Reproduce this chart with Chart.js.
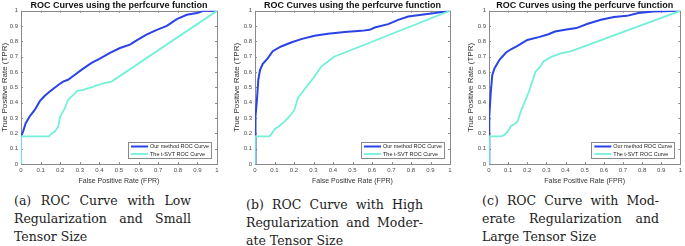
<!DOCTYPE html>
<html>
<head>
<meta charset="utf-8">
<script src="https://cdn.jsdelivr.net/npm/chart.js@4.4.1/dist/chart.umd.min.js"></script>
<style>
  html, body { margin: 0; padding: 0; background: #fff; }
  #page { position: relative; width: 685px; height: 246px; overflow: hidden; }
  .panel { position: absolute; top: 0; height: 190px; }
  .cap { position: absolute; width: 177px; font-family: "DejaVu Serif", serif; font-size: 12.5px; line-height: 18px; color: #222; }
  .cap span { display: block; text-align: justify; text-align-last: justify; white-space: nowrap; }
  .cap span.last { text-align-last: left; }
</style>
</head>
<body>
<div id="page">
  <div class="panel" style="left:0;width:228px"><canvas id="rocA"></canvas></div>
  <div class="panel" style="left:228px;width:228px"><canvas id="rocB"></canvas></div>
  <div class="panel" style="left:456px;width:229px"><canvas id="rocC"></canvas></div>

  <div class="cap" style="left:14px;top:192px">
    <span>(a) ROC Curve with Low</span>
    <span>Regularization and Small</span>
    <span class="last">Tensor Size</span>
  </div>
  <div class="cap" style="left:246px;top:196px">
    <span>(b) ROC Curve with High</span>
    <span>Regularization and Moder-</span>
    <span class="last">ate Tensor Size</span>
  </div>
  <div class="cap" style="left:482px;top:192px">
    <span>(c) ROC Curve with Mod-</span>
    <span>erate Regularization and</span>
    <span class="last">Large Tensor Size</span>
  </div>
</div>

<script>
// Подписи
var chartTitle = 'ROC Curves using the perfcurve function';
var xTitle = 'False Positive Rate (FPR)';
var yTitle = 'True Positive Rate (TPR)';
var blueLabel = 'Our method ROC Curve';
var cyanLabel = 'The t-SVT ROC Curve';

// (a) низкая регуляризация, малый тензор
var blueFprA = [0, 0, 0.01, 0.024, 0.044, 0.07, 0.096, 0.12, 0.147, 0.19, 0.215, 0.24, 0.275, 0.31, 0.36, 0.40, 0.454, 0.505, 0.556, 0.59, 0.64, 0.693, 0.744, 0.795, 0.846, 0.898, 0.93, 1];
var blueTprA = [0, 0.18, 0.21, 0.266, 0.31, 0.353, 0.41, 0.444, 0.473, 0.516, 0.538, 0.55, 0.583, 0.616, 0.66, 0.686, 0.725, 0.757, 0.779, 0.807, 0.845, 0.876, 0.902, 0.946, 0.974, 0.985, 1, 1];
var cyanFprA = [0, 0, 0.143, 0.155, 0.172, 0.19, 0.2, 0.224, 0.24, 0.266, 0.287, 0.317, 0.37, 0.42, 0.462, 1];
var cyanTprA = [0, 0.18, 0.18, 0.2, 0.21, 0.244, 0.31, 0.364, 0.42, 0.45, 0.477, 0.484, 0.505, 0.527, 0.538, 1];

// (b) высокая регуляризация, средний тензор
var blueFprB = [0, 0, 0.005, 0.01, 0.017, 0.026, 0.04, 0.065, 0.091, 0.134, 0.185, 0.237, 0.305, 0.374, 0.46, 0.545, 0.588, 0.614, 0.683, 0.734, 0.786, 0.854, 0.923, 1];
var blueTprB = [0, 0.18, 0.31, 0.42, 0.55, 0.615, 0.654, 0.69, 0.736, 0.767, 0.793, 0.815, 0.837, 0.85, 0.861, 0.869, 0.876, 0.891, 0.913, 0.941, 0.963, 0.974, 0.985, 1];
var cyanFprB = [0, 0, 0.074, 0.087, 0.1, 0.125, 0.151, 0.177, 0.202, 0.22, 0.245, 0.271, 0.305, 0.34, 0.374, 0.408, 0.451, 1];
var cyanTprB = [0, 0.18, 0.18, 0.2, 0.227, 0.248, 0.277, 0.31, 0.353, 0.429, 0.473, 0.516, 0.571, 0.636, 0.669, 0.702, 0.723, 1];

// (c) средняя регуляризация, большой тензор
var blueFprC = [0, 0, 0.003, 0.009, 0.017, 0.029, 0.055, 0.089, 0.115, 0.149, 0.2, 0.26, 0.311, 0.345, 0.397, 0.456, 0.516, 0.585, 0.653, 0.721, 0.781, 0.858, 1];
var blueTprC = [0, 0.18, 0.31, 0.462, 0.58, 0.625, 0.68, 0.728, 0.749, 0.771, 0.81, 0.828, 0.847, 0.865, 0.876, 0.887, 0.915, 0.941, 0.959, 0.967, 0.985, 0.996, 1];
var cyanFprC = [0, 0, 0.063, 0.08, 0.097, 0.115, 0.132, 0.149, 0.166, 0.191, 0.209, 0.243, 0.268, 0.285, 0.328, 0.38, 0.422, 0.448, 1];
var cyanTprC = [0, 0.18, 0.18, 0.19, 0.21, 0.248, 0.26, 0.277, 0.342, 0.418, 0.473, 0.603, 0.636, 0.669, 0.701, 0.723, 0.734, 0.745, 1];

var blueColor = '#2a43e6';
var cyanColor = '#72f0d8';
var frameColor = '#8a8a8a';
var tickColor = '#4a4a4a';

function toPoints(xs, ys) {
    return xs.map(function (x, i) { return { x: x, y: ys[i] }; });
}

// Рамка и внутренние засечки как в MATLAB
var boxPlugin = {
    id: 'box',
    beforeDatasetsDraw: function (chart) {
        var a = chart.chartArea, ctx = chart.ctx;
        var xs = chart.scales.x, ys = chart.scales.y;
        ctx.save();
        ctx.strokeStyle = frameColor;
        ctx.lineWidth = 1;
        ctx.strokeRect(Math.round(a.left) + 0.5, Math.round(a.top) + 0.5,
            Math.round(a.right - a.left), Math.round(a.bottom - a.top));
        ctx.beginPath();
        xs.ticks.forEach(function (t) {
            var px = Math.round(xs.getPixelForValue(t.value)) + 0.5;
            ctx.moveTo(px, a.bottom); ctx.lineTo(px, a.bottom - 2);
            ctx.moveTo(px, a.top); ctx.lineTo(px, a.top + 2);
        });
        ys.ticks.forEach(function (t) {
            var py = Math.round(ys.getPixelForValue(t.value)) + 0.5;
            ctx.moveTo(a.left, py); ctx.lineTo(a.left + 2, py);
            ctx.moveTo(a.right, py); ctx.lineTo(a.right - 2, py);
        });
        ctx.stroke();
        ctx.restore();
    },
    afterDatasetsDraw: function (chart) {
        // Легенда внутри области графика, справа снизу
        var a = chart.chartArea, ctx = chart.ctx;
        var w = 83, h = 16;
        var x = a.right - 6 - w, y = a.bottom - 6 - h;
        ctx.save();
        ctx.fillStyle = '#fff';
        ctx.fillRect(x, y, w, h);
        ctx.strokeStyle = frameColor;
        ctx.lineWidth = 1;
        ctx.strokeRect(Math.round(x) + 0.5, Math.round(y) + 0.5, w, h);
        var rows = [[blueColor, blueLabel, 2], [cyanColor, cyanLabel, 1.8]];
        ctx.font = '5.5px "Liberation Sans", Arial, sans-serif';
        ctx.textBaseline = 'middle';
        rows.forEach(function (r, i) {
            var ry = y + 4.5 + i * 7.5;
            ctx.strokeStyle = r[0];
            ctx.lineWidth = r[2];
            ctx.beginPath();
            ctx.moveTo(x + 3, ry); ctx.lineTo(x + 20, ry);
            ctx.stroke();
            ctx.fillStyle = '#222';
            ctx.fillText(r[1], x + 22, ry);
        });
        ctx.restore();
    }
};

function makeRoc(id, blueX, blueY, cyanX, cyanY, yAxisWidth, rightPad, yTitlePad) {
    return new Chart(document.getElementById(id), {
        type: 'line',
        data: {
            datasets: [
                { label: blueLabel, data: toPoints(blueX, blueY), borderColor: blueColor, borderWidth: 2, pointRadius: 0, tension: 0, order: 1 },
                { label: cyanLabel, data: toPoints(cyanX, cyanY), borderColor: cyanColor, borderWidth: 1.8, pointRadius: 0, tension: 0, order: 0 }
            ]
        },
        options: {
            responsive: true,
            maintainAspectRatio: false,
            animation: false,
            layout: { padding: { top: 0, right: rightPad, bottom: 0, left: 0 } },
            plugins: {
                legend: { display: false },
                tooltip: { enabled: false },
                title: {
                    display: true,
                    text: chartTitle,
                    fullSize: false,
                    color: '#111',
                    font: { family: '"Liberation Sans", Arial, sans-serif', size: 9, weight: 'bold', lineHeight: 1.2 },
                    padding: { top: 0, bottom: 0 }
                }
            },
            scales: {
                x: {
                    type: 'linear', min: 0, max: 1,
                    grid: { display: false, drawTicks: false },
                    border: { display: false },
                    ticks: {
                        stepSize: 0.1, autoSkip: false, maxRotation: 0, padding: 3,
                        color: tickColor,
                        font: { family: '"Liberation Sans", Arial, sans-serif', size: 6 },
                        callback: function (v) { return String(Math.round(v * 10) / 10); }
                    },
                    title: {
                        display: true, text: xTitle, color: '#333',
                        font: { family: '"Liberation Sans", Arial, sans-serif', size: 7, lineHeight: 1.2 },
                        padding: { top: 0, bottom: 5 }
                    },
                    afterFit: function (s) { s.height = 26; }
                },
                y: {
                    type: 'linear', min: 0, max: 1,
                    grid: { display: false, drawTicks: false },
                    border: { display: false },
                    ticks: {
                        stepSize: 0.1, autoSkip: false, padding: 3,
                        color: tickColor,
                        font: { family: '"Liberation Sans", Arial, sans-serif', size: 6 },
                        callback: function (v) { return String(Math.round(v * 10) / 10); }
                    },
                    title: {
                        display: true, text: yTitle, color: '#333',
                        font: { family: '"Liberation Sans", Arial, sans-serif', size: 8, lineHeight: 1.2 },
                        padding: { top: yTitlePad, bottom: 0 }
                    },
                    afterFit: function (s) { s.width = yAxisWidth; }
                }
            }
        },
        plugins: [boxPlugin]
    });
}

var chartA = makeRoc('rocA', blueFprA, blueTprA, cyanFprA, cyanTprA, 21, 11, 0);
var chartB = makeRoc('rocB', blueFprB, blueTprB, cyanFprB, cyanTprB, 27, 6, 4);
var chartC = makeRoc('rocC', blueFprC, blueTprC, cyanFprC, cyanTprC, 33, 1, 10);
</script>
</body>
</html>
